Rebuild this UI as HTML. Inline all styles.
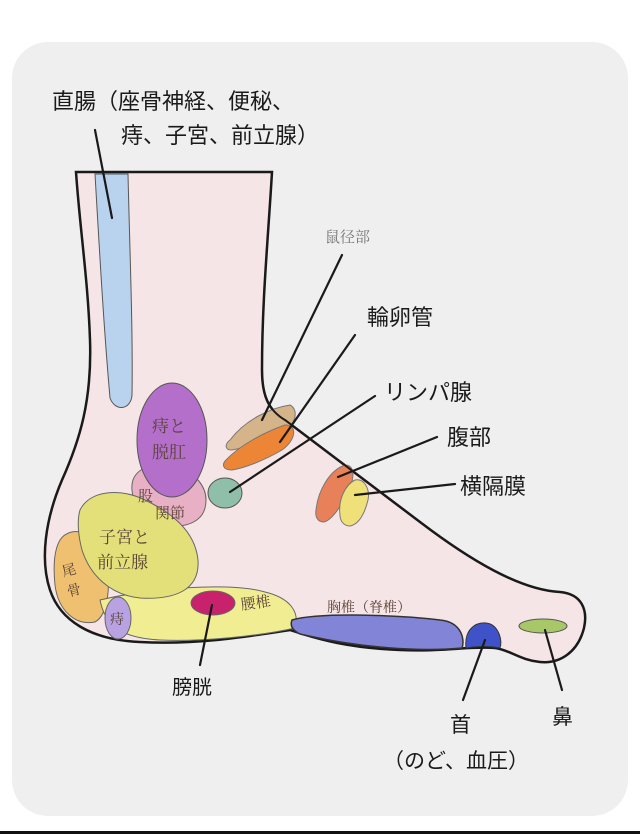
<!DOCTYPE html>
<html><head><meta charset="utf-8"><style>
html,body{margin:0;padding:0;background:#fff;}
svg{display:block}
.l{font-family:"Liberation Sans","Noto Sans CJK JP",sans-serif;fill:#1a1a1a;}
.s{font-family:"Liberation Serif","Noto Serif CJK SC",serif;fill:#5a4238;}
</style></head><body>
<svg width="640" height="834" viewBox="0 0 640 834" xmlns="http://www.w3.org/2000/svg">
<rect x="0" y="0" width="640" height="834" fill="#fff"/>
<rect x="12" y="42" width="616" height="774" rx="36" fill="#efefef"/>
<rect x="0" y="831" width="640" height="3" fill="#111"/>

<path d="M76,172 L272,172 C268,240 262,300 262,370 C262,395 268,410 285,420 L420,522 C470,560 520,590 560,592 C582,594 588,610 584,628 C578,652 560,664 540,662 C520,660 510,650 495,648 C470,646 440,652 400,650 C350,648 320,640 290,630 C250,636 200,645 140,642 C90,640 60,620 50,590 C40,560 45,520 62,480 C80,440 92,400 90,340 C88,280 80,230 76,172 Z" fill="#f6e5e6" stroke="#1a1a1a" stroke-width="2.5"/>

<path d="M95,174 L128,174 C130,260 133,330 132,395 C131,410 115,412 110,398 C104,330 100,260 95,174 Z" fill="#b9d3ee" stroke="#555" stroke-width="1"/>

<path d="M132,490 C130,470 150,462 170,465 C195,470 210,488 205,508 C200,528 170,530 150,522 C135,515 133,500 132,490 Z" fill="#e8b0c4" stroke="#666" stroke-width="1"/>
<ellipse cx="172" cy="440" rx="35" ry="57" fill="#b46fcb" stroke="#555" stroke-width="1"/>
<ellipse cx="225" cy="493" rx="17" ry="15" fill="#8fbfa8" stroke="#555" stroke-width="1"/>
<path d="M60,540 C70,525 95,530 105,555 C112,585 108,615 95,622 C75,626 58,610 55,585 C53,565 54,550 60,540 Z" fill="#efc070" stroke="#666" stroke-width="1"/>
<path d="M100,600 C150,588 230,582 265,592 C290,598 300,612 295,628 C260,636 200,642 160,640 C120,638 105,625 100,600 Z" fill="#f1ed92" stroke="#666" stroke-width="1"/>
<path d="M80,510 C90,490 120,488 145,500 C170,512 195,530 198,560 C200,590 175,600 140,598 C110,595 90,575 82,550 C78,535 77,520 80,510 Z" fill="#e3e07a" stroke="#666" stroke-width="1"/>
<ellipse cx="118" cy="618" rx="13" ry="21" fill="#b8a2e2" stroke="#666" stroke-width="1"/>
<ellipse cx="213" cy="603" rx="22" ry="12" fill="#c8226c" stroke="#666" stroke-width="1"/>
<path d="M292,620 C320,612 400,615 440,620 C462,622 465,640 462,648 C420,652 360,648 300,634 C292,630 290,625 292,620 Z" fill="#8284d8" stroke="#333" stroke-width="1.5"/>
<path d="M466,648 C464,630 475,622 486,623 C498,624 503,640 500,648 C490,646 478,646 466,648 Z" fill="#3f52c8" stroke="#333" stroke-width="1"/>
<ellipse cx="543" cy="626" rx="24" ry="7" fill="#a8c868" stroke="#555" stroke-width="1"/>

<path d="M230,440 C245,420 270,408 290,405 C300,410 295,428 280,432 C262,440 245,448 232,450 C224,450 225,444 230,440 Z" fill="#d4b488" stroke="#777" stroke-width="1"/>
<path d="M226,460 C240,445 265,432 285,425 C298,425 296,440 282,450 C265,460 245,468 232,470 C222,470 222,464 226,460 Z" fill="#ec8535" stroke="#777" stroke-width="1"/>
<path d="M316,510 C318,490 330,470 345,465 C355,465 355,478 348,492 C340,508 332,520 324,522 C317,522 315,516 316,510 Z" fill="#e8805a" stroke="#777" stroke-width="1"/>
<path d="M340,515 C338,500 345,485 355,480 C365,478 370,490 368,500 C365,512 360,524 350,526 C343,526 340,520 340,515 Z" fill="#f0e07a" stroke="#777" stroke-width="1"/>
<path d="M262,370 C262,395 268,410 285,420 L420,522" fill="none" stroke="#1a1a1a" stroke-width="2"/>

<g stroke="#1a1a1a" stroke-width="2.2" stroke-linecap="round">
<line x1="95" y1="130" x2="112" y2="218"/>
<line x1="342" y1="255" x2="262" y2="420"/>
<line x1="355" y1="335" x2="280" y2="442"/>
<line x1="375" y1="396" x2="230" y2="492"/>
<line x1="437" y1="437" x2="338" y2="477"/>
<line x1="455" y1="484" x2="355" y2="495"/>
<line x1="212" y1="605" x2="200" y2="665"/>
<line x1="485" y1="640" x2="463" y2="700"/>
<line x1="545" y1="630" x2="562" y2="690"/>
</g>

<text class="l" x="52" y="109" font-size="22">直腸（座骨神経、便秘、</text>
<text class="l" x="121" y="143" font-size="22">痔、子宮、前立腺）</text>
<text class="s" x="325" y="242" font-size="15" style="fill:#777">鼠径部</text>
<text class="l" x="367" y="325" font-size="22">輪卵管</text>
<text class="l" x="384" y="400" font-size="22">リンパ腺</text>
<text class="l" x="447" y="445" font-size="22">腹部</text>
<text class="l" x="460" y="494" font-size="22">横隔膜</text>
<text class="l" x="172" y="694" font-size="20">膀胱</text>
<text class="l" x="450" y="732" font-size="21">首</text>
<text class="l" x="383" y="768" font-size="21">（のど、血圧）</text>
<text class="l" x="552" y="724" font-size="21">鼻</text>

<text class="s" x="152" y="432" font-size="17">痔と</text>
<text class="s" x="152" y="458" font-size="17">脱肛</text>
<text class="s" x="138" y="501" font-size="15">股</text>
<text class="s" x="155" y="518" font-size="15">関節</text>
<text class="s" x="99" y="543" font-size="17">子宮と</text>
<text class="s" x="97" y="568" font-size="17">前立腺</text>
<text class="s" x="62" y="575" font-size="14" transform="rotate(-15 69 570)">尾</text>
<text class="s" x="67" y="595" font-size="14" transform="rotate(-15 74 590)">骨</text>
<text class="s" x="110" y="624" font-size="14">痔</text>
<text class="s" x="241" y="608" font-size="15" transform="rotate(-8 255 605)">腰椎</text>
<text class="s" x="327" y="612" font-size="14">胸椎（脊椎）</text>
</svg>
</body></html>
